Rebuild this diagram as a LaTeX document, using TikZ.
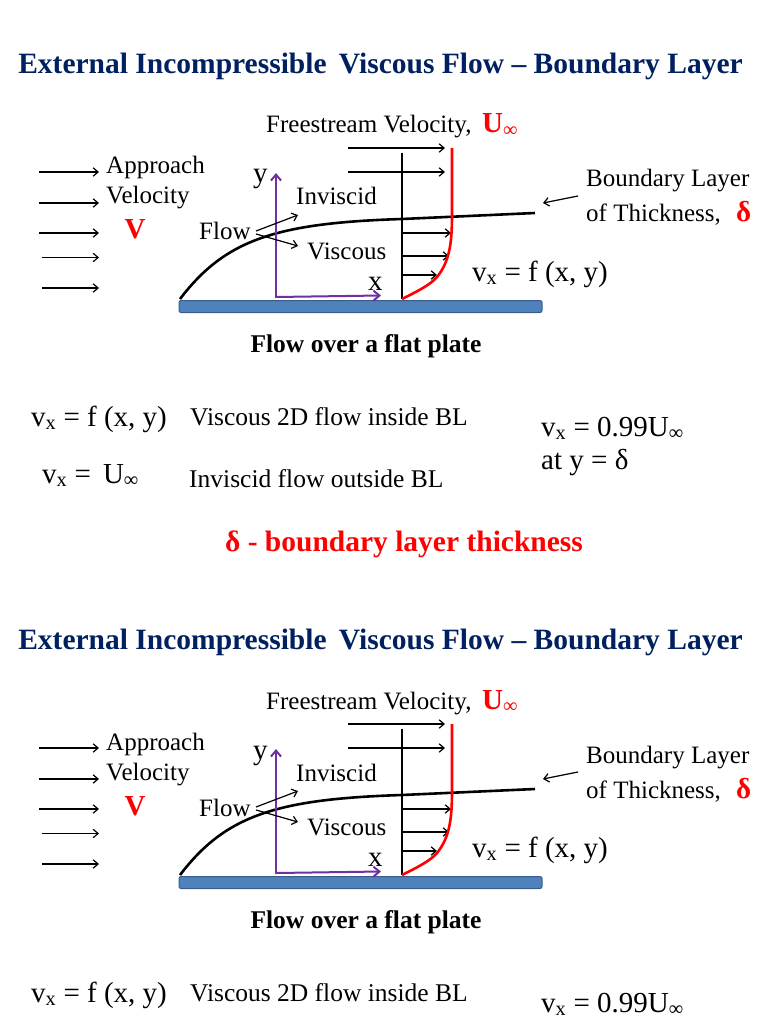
\documentclass[tikz,border=0pt]{standalone}
\usepackage{fontspec}
\usetikzlibrary{arrows.meta}
\setmainfont{Liberation Serif}
\definecolor{navy}{HTML}{002060}
\definecolor{plateblue}{HTML}{4F81BD}
\definecolor{plateedge}{HTML}{385D8A}
\definecolor{axispurple}{HTML}{7030A0}
\newcommand{\vx}{v\textsubscript{x}}
\newcommand{\uinf}{U\textsubscript{\normalfont ∞}}
\tikzset{
  lbl/.style={anchor=base west,inner sep=0pt,font=\fontsize{25}{25}\selectfont},
  lblbig/.style={anchor=base west,inner sep=0pt,font=\fontsize{29}{29}\selectfont},
  lblsm/.style={anchor=base west,inner sep=0pt,font=\fontsize{25.5}{26}\selectfont},
  redbold/.style={text=red,font=\fontsize{29}{29}\selectfont\bfseries},
  thin arrow/.style={-{Straight Barb[length=5pt,width=8.5pt]},line width=1.2pt},
  axis arrow/.style={-{Straight Barb[length=6pt,width=10pt]},line width=2pt,draw=axispurple},
}
\begin{document}
\begin{tikzpicture}[x=1pt,y=-1pt]
\useasboundingbox (0,0) rectangle (768,1024);
% both panels, same drawing
\foreach \pn/\dy in {a/0,b/576}{
\begin{scope}[yshift=-\dy pt,name prefix=\pn-]
\node[inner sep=0pt,text=navy,font=\fontsize{29.5}{30}\selectfont\bfseries] (title) at (380.5,66) {External Incompressible\, Viscous Flow -- Boundary Layer};
\node[lbl] (free) at (266,133) {Freestream Velocity,};
\node[anchor=base west,inner sep=0pt,text=red,font=\fontsize{29}{29}\selectfont\bfseries] (uinf) at (482,133) {\uinf};
\node[lbl] (appr) at (106,174) {Approach};
\node[lbl] (velo) at (106,204) {Velocity};
\node[redbold,anchor=base,inner sep=0pt] (vee) at (135,239) {V};
\node[lblbig] (ylab) at (253,183) {y};
\node[lbl] (invi) at (296,205) {Inviscid};
\node[lbl] (flow) at (199,240) {Flow};
\node[lbl] (visc) at (307,259) {Viscous};
\node[lblbig] (xlab) at (368,290) {x};
\node[lblbig] (func) at (472,281) {\vx{} = f (x, y)};
\node[lbl] (bl) at (586,187) {Boundary Layer};
\node[lbl] (thick) at (586,222) {of Thickness,};
\node[redbold,anchor=base west,inner sep=0pt] (delta) at (736,222) {δ};
\node[inner sep=0pt,font=\fontsize{25.5}{26}\selectfont\bfseries] (cap) at (366,346) {Flow over a flat plate};
\node[lblbig] (fxy) at (31,426) {\vx{} = f (x, y)};
\node[lblsm] (insi) at (190,425) {Viscous 2D flow inside BL};
\node[lblbig] (ninenine) at (541,436) {\vx{} = 0.99\uinf};
% plate
\node[draw=plateedge,fill=plateblue,rounded corners=2pt,line width=1pt,minimum width=363pt,minimum height=12pt,inner sep=0pt] (plate) at (360.5,306.5) {};
% approach arrows
\foreach \xs/\ys/\n in {39/172/1,39/203/2,39/233/3,42/257.5/4,42/288/5}{
  \coordinate (as\n) at (\xs,\ys);
  \coordinate (ae\n) at (99,\ys);
  \draw[thin arrow] (as\n) -- (ae\n);
}
% freestream and profile arrows
\coordinate (wall) at (402,299);
\coordinate (top) at (402,153);
\foreach \xe/\ys/\xs/\n in {445/148/348/1,445/172/348/2,451/233/402/3,449/256/402/4,437/275/402/5}{
  \coordinate (fs\n) at (\xs,\ys);
  \coordinate (fe\n) at (\xe,\ys);
  \draw[thin arrow] (fs\n) -- (fe\n);
}
\draw[line width=2pt] (top) -- (wall);
% boundary layer edge
\coordinate (edgea) at (180,299);
\coordinate (edgeb) at (535,213);
\draw[line width=2.6pt] (edgea) .. controls (225,240) and (275,223) .. (402,219) -- (edgeb);
% velocity profile
\coordinate (proa) at (452,148);
\draw[red,line width=2.6pt] (wall) .. controls (418,291) and (430,285) .. (437,277) .. controls (449,262) and (452,245) .. (452,215) -- (proa);
% axes
\coordinate (orig) at (276,298);
\coordinate (ytip) at (276,173);
\coordinate (xorig) at (276,297);
\coordinate (xtip) at (381,295.5);
\draw[axis arrow] (orig) -- (ytip);
\draw[axis arrow] (xorig) -- (xtip);
% flow pointers
\coordinate (flowa) at (256,231);
\coordinate (flowb) at (256,234);
\coordinate (inva) at (298,215);
\coordinate (visa) at (298,246);
\draw[thin arrow] (flowa) -- (inva);
\draw[thin arrow] (flowb) -- (visa);
% pointer to the layer edge
\coordinate (blfrom) at (578,196);
\coordinate (blto) at (543,203);
\draw[thin arrow] (blfrom) -- (blto);
\end{scope}
}
% lines of the first panel that the page cuts off in the second
\node[lblbig] (outval) at (42,483) {\vx{} =\, \uinf};
\node[lblsm] (outs) at (189,487) {Inviscid flow outside BL};
\node[lblbig] (aty) at (541,469) {at y = δ};
\node[inner sep=0pt,text=red,font=\fontsize{29.5}{30}\selectfont\bfseries] (defn) at (404,544) {δ - boundary layer thickness};
\end{tikzpicture}
\end{document}
